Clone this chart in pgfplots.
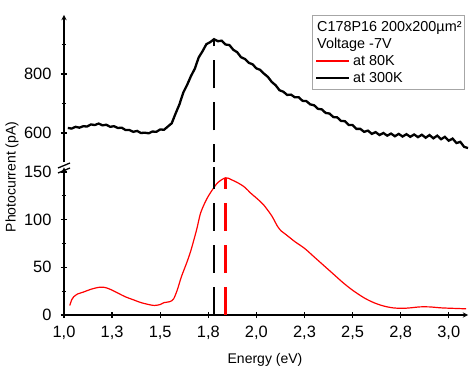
\documentclass[border=0pt]{standalone}
\usepackage{pgfplots}
\pgfplotsset{compat=1.18}
\usepackage{fontspec}
\setmainfont{Liberation Sans}
\begin{document}
\begin{tikzpicture}
\pgfplotsset{
  common/.style={
    scale only axis, width=404pt, xmin=1, xmax=3.1,
    axis line style={-, line width=1.3pt, black},
    tick align=outside, major tick length=6pt, minor tick length=4pt,
    every tick/.style={line width=1.2pt, black},
    tick label style={font=\fontsize{16.4}{18}\selectfont},
    yticklabel style={xshift=-6pt},
    xticklabel style={yshift=-5pt},
    clip=false,
  }
}
% lower axis (80K)
\begin{axis}[common, at={(0pt,0pt)}, anchor=south west,
  height=147.7pt, ymin=0, ymax=155,
  axis x line=bottom, axis y line=left,
  xtick={1,1.25,1.5,1.75,2,2.25,2.5,2.75,3},
  xticklabels={{1,0},{1,3},{1,5},{1,8},{2,0},{2,3},{2,5},{2,8},{3,0}},
  ytick={0,50,100,150}, yticklabels={0,50,100,150},
  minor ytick={25,75,125},
]
\addplot[red, line width=1.2pt, smooth] coordinates {
(1.03,10) (1.04,16) (1.05,19) (1.07,22) (1.10,24) (1.14,27) (1.18,29) (1.21,29)
(1.24,27) (1.28,23) (1.32,19) (1.36,16) (1.40,13) (1.44,11) (1.47,10) (1.50,11)
(1.52,13) (1.55,14) (1.57,17) (1.59,27) (1.61,40) (1.64,56) (1.66,68) (1.69,90)
(1.71,107) (1.74,121) (1.77,131) (1.80,139) (1.84,144) (1.87,142) (1.91,138)
(1.94,134) (1.97,128) (2.01,121) (2.04,115) (2.08,104) (2.11,93) (2.13,88)
(2.15,85) (2.20,77) (2.25,70) (2.30,61) (2.35,52) (2.40,43) (2.45,34) (2.50,26)
(2.56,18) (2.61,13) (2.66,9.5) (2.71,7.5) (2.76,7) (2.80,7.5) (2.85,8.5)
(2.90,8.5) (2.96,7.5) (3.02,7) (3.09,6.5)
};
\addplot[black, line width=2.6pt, dash pattern=on 28pt off 14pt] coordinates {(1.78,0) (1.78,155)};
\addplot[red, line width=2.6pt, dash pattern=on 28pt off 14pt] coordinates {(1.84,0) (1.84,144)};
\end{axis}
% upper axis (300K)
\begin{axis}[common, at={(0pt,152.5pt)}, anchor=south west,
  height=147.5pt, ymin=500, ymax=1000,
  axis x line=none, axis y line=left,
  ytick={600,800}, yticklabels={600,800},
  minor ytick={700,900},
]
\addplot[black, line width=2.3pt] coordinates {
(1.02,617) (1.04,615) (1.06,621) (1.08,618) (1.10,623) (1.12,622) (1.14,629)
(1.16,627) (1.18,632) (1.20,626) (1.22,628) (1.24,621) (1.26,623) (1.28,617)
(1.30,618) (1.32,610) (1.34,610) (1.36,604) (1.38,607) (1.40,600) (1.42,601)
(1.44,599) (1.46,605) (1.48,604) (1.50,612) (1.52,611) (1.54,622) (1.56,633)
(1.58,666) (1.60,697) (1.62,737) (1.64,763) (1.66,793) (1.68,818) (1.70,856)
(1.72,877) (1.74,901) (1.76,908) (1.78,918) (1.80,911) (1.82,913) (1.84,900)
(1.86,898) (1.88,882) (1.90,874) (1.92,857) (1.94,851) (1.96,838) (1.98,833)
(2.00,819) (2.02,814) (2.04,801) (2.06,790) (2.08,773) (2.10,762) (2.12,745)
(2.14,740) (2.16,729) (2.18,730) (2.20,721) (2.22,721) (2.24,709) (2.26,708)
(2.28,697) (2.30,694) (2.32,682) (2.34,680) (2.36,668) (2.38,666) (2.40,654)
(2.42,653) (2.44,641) (2.46,640) (2.48,627) (2.50,627) (2.52,614) (2.54,614)
(2.56,604) (2.58,608) (2.60,597) (2.62,603) (2.64,593) (2.66,600) (2.68,591)
(2.70,598) (2.72,589) (2.74,597) (2.76,588) (2.78,596) (2.80,587) (2.82,595)
(2.84,586) (2.86,594) (2.88,584) (2.90,593) (2.92,582) (2.94,591) (2.96,579)
(2.98,587) (3.00,574) (3.02,581) (3.04,566) (3.06,570) (3.08,553) (3.10,549)
};
\addplot[black, line width=2.6pt, dash pattern=on 28pt off 14pt, dash phase=10pt] coordinates {(1.78,500) (1.78,915)};
\end{axis}
% axis break marks
\draw[line width=1.3pt] (-6pt,142pt) -- (6pt,147pt);
\draw[line width=1.3pt] (-6pt,147pt) -- (6pt,152pt);
% labels
\node[font=\fontsize{14}{16}\selectfont] at (201pt,-45pt) {Energy (eV)};
\node[font=\fontsize{14}{16}\selectfont, rotate=90] at (-52pt,138pt) {Photocurrent (pA)};
% legend
\path[draw=gray!70, line width=0.9pt, fill=white] (248pt,226pt) rectangle (400pt,300pt);
\path[draw=red, line width=1.6pt] (252pt,254pt) -- (285pt,254pt);
\path[draw=black, line width=1.6pt] (252pt,237pt) -- (285pt,237pt);
\node[font=\fontsize{14.4}{16}\selectfont, anchor=base west, inner sep=0pt] at (253pt,283pt) {C178P16 200x200µm²};
\node[font=\fontsize{14.4}{16}\selectfont, anchor=base west, inner sep=0pt] at (253pt,266pt) {Voltage -7V};
\node[font=\fontsize{14.4}{16}\selectfont, anchor=base west, inner sep=0pt] at (289pt,249pt) {at 80K};
\node[font=\fontsize{14.4}{16}\selectfont, anchor=base west, inner sep=0pt] at (289pt,232pt) {at 300K};
\pgfresetboundingbox
\useasboundingbox (-64pt,-60pt) rectangle (410pt,315pt);
\end{tikzpicture}
\end{document}
